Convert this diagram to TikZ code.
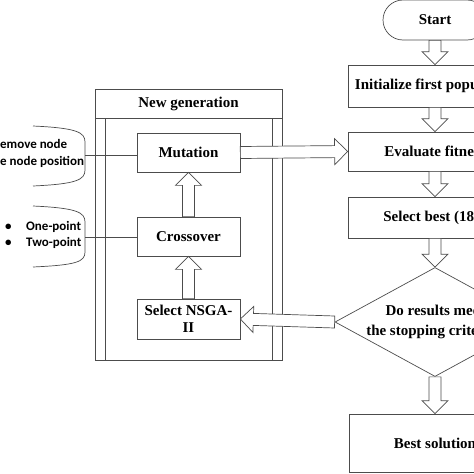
\documentclass[tikz,border=0pt]{standalone}
\usepackage{fontspec}
\setmainfont{Liberation Serif}
\newfontfamily\sidefont{Carlito}
\usetikzlibrary{shapes.geometric,calc}

% hollow block arrow from one anchor to another
\newcommand{\hollowarrow}[2]{%
  \draw[hollow] let \p1=(#1), \p2=(#2),
    \n1={atan2(\y2-\y1,\x2-\x1)}, \n2={veclen(\x2-\x1,\y2-\y1)} in
    [shift={(\p1)}, rotate=\n1]
    (0pt,-6pt) -- ({\n2*1pt-13pt},-6pt) -- ({\n2*1pt-13pt},-13pt)
    -- ({\n2*1pt},0pt) -- ({\n2*1pt-13pt},13pt) -- ({\n2*1pt-13pt},6pt)
    -- (0pt,6pt) -- cycle;}

\begin{document}
\begin{tikzpicture}[
  x=1pt, y=-1pt,
  line/.style={
    draw=black!70,
    line width=0.7pt,
  },
  hollow/.style={
    line,
    fill=white,
    line join=miter,
  },
  box/.style={
    line,
    rectangle,
    inner sep=0pt,
    align=center,
    font=\fontsize{15}{17}\selectfont\bfseries,
  },
  decision/.style={
    box,
    diamond,
    aspect=1.83,
    minimum width=200pt,
    minimum height=109pt,
    font=\fontsize{15}{20}\selectfont\bfseries,
  },
  side/.style={
    inner sep=0pt,
    anchor=west,
    align=left,
    font=\fontsize{13}{16.5}\selectfont\sidefont\bfseries,
  },
]
\useasboundingbox (0,0) rectangle (474,474);
\clip (0,0) rectangle (474,474);

% Main loop
\node[box, rounded corners=20pt, minimum width=104pt, minimum height=40pt] (start) at (435,20) {Start};
\node[box, minimum width=174pt, minimum height=42pt] (init) at (435,86) {Initialize first population};
\node[box, minimum width=174pt, minimum height=39pt] (eval) at (435,151.5) {Evaluate fitness};
\node[box, minimum width=174pt, minimum height=41pt] (best) at (435,217.5) {Select best (18\phantom{0)}};
\node[decision] (stop) at (435,322) {Do results meet\\the stopping criteria?};
\node[box, minimum width=172pt, minimum height=58pt] (sol) at (435,443) {Best solution};

% New generation frame
\draw[line] (95,89) rectangle (282,360);
\draw[line] (95,118) -- (282,118);
\draw[line] (105,118) -- (105,360);
\draw[line] (272,118) -- (272,360);
\node[font=\fontsize{15}{17}\selectfont\bfseries] (gen) at (188.5,104) {New generation};

\node[box, minimum width=103pt, minimum height=39pt] (mut) at (188.5,152.5) {Mutation};
\node[box, minimum width=103pt, minimum height=39pt] (cross) at (188.5,236.5) {Crossover};
\node[box, minimum width=103pt, minimum height=40pt] (nsga) at (188.5,319) {Select NSGA-\\II};

% Operator options
\draw[line] (33,126) .. controls (76,128) and (85,132) .. (85,142)
  -- (85,170) .. controls (85,180) and (76,184) .. (33,186);
\draw[line] (33,206) .. controls (76,208) and (85,212) .. (85,222)
  -- (85,252) .. controls (85,262) and (76,265) .. (33,267);
\coordinate (mutlink) at (85,155);
\coordinate (crosslink) at (85,237);
\node[side] (mutops) at (0,153.5) {emove node\\e node position};
\node[side] (crossops) at (5,235) {\makebox[21pt][l]{•}One-point\\\makebox[21pt][l]{•}Two-point};

\draw[line] (mutlink) -- (mutlink -| mut.west);
\draw[line] (crosslink) -- (crosslink -| cross.west);

% Block arrows
\hollowarrow{start.south}{init.north}
\hollowarrow{init.south}{eval.north}
\hollowarrow{eval.south}{best.north}
\hollowarrow{best.south}{stop.north}
\hollowarrow{stop.south}{sol.north}
\hollowarrow{mut.east}{eval.west}
\hollowarrow{stop.west}{nsga.east}
\hollowarrow{cross.north}{mut.south}
\hollowarrow{nsga.north}{cross.south}

\end{tikzpicture}
\end{document}
